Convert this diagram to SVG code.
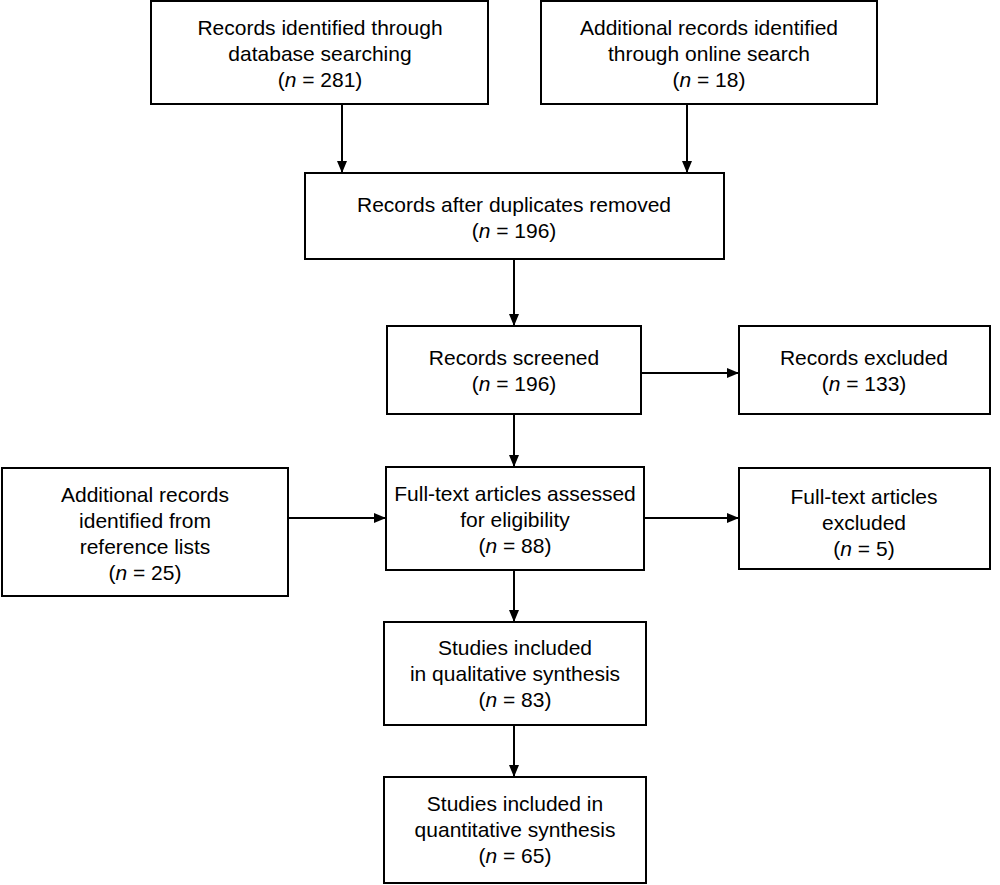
<svg xmlns="http://www.w3.org/2000/svg" width="1000" height="885" viewBox="0 0 1000 885">
<style>
rect{fill:#fff;stroke:#000;stroke-width:2}
text{font-family:"Liberation Sans",Arial,sans-serif;font-size:21px;text-anchor:middle;fill:#000}
.i{font-style:italic}
.c{stroke:#000;stroke-width:2;fill:none;marker-end:url(#ah)}
</style>
<defs>
<marker id="ah" markerWidth="12" markerHeight="10" refX="12" refY="5" orient="auto" markerUnits="userSpaceOnUse">
<path d="M0,0 L12,5 L0,10 Z" fill="#000"/>
</marker>
</defs>
<rect x="0" y="0" width="1000" height="885" style="stroke:none"/>
<g id="connectors">
<line class="c" x1="342" y1="104" x2="342" y2="173"/>
<line class="c" x1="687" y1="104" x2="687" y2="173"/>
<line class="c" x1="514" y1="259" x2="514" y2="326"/>
<line class="c" x1="641" y1="373" x2="739" y2="373"/>
<line class="c" x1="514" y1="414" x2="514" y2="467"/>
<line class="c" x1="288" y1="518" x2="386" y2="518"/>
<line class="c" x1="644" y1="518" x2="739" y2="518"/>
<line class="c" x1="514" y1="570" x2="514" y2="622"/>
<line class="c" x1="514" y1="725" x2="514" y2="777"/>
</g>
<g id="db">
<rect x="151" y="1" width="337" height="103"/>
<text x="320" y="35">Records identified through</text>
<text x="320" y="61">database searching</text>
<text x="320" y="87">(<tspan class="i">n</tspan> = 281)</text>
</g>
<g id="online">
<rect x="541" y="1" width="336" height="103"/>
<text x="709" y="35">Additional records identified</text>
<text x="709" y="61">through online search</text>
<text x="709" y="87">(<tspan class="i">n</tspan> = 18)</text>
</g>
<g id="dedup">
<rect x="305" y="173" width="419" height="86"/>
<text x="514" y="212">Records after duplicates removed</text>
<text x="514" y="238">(<tspan class="i">n</tspan> = 196)</text>
</g>
<g id="screened">
<rect x="387" y="326" width="254" height="88"/>
<text x="514" y="365">Records screened</text>
<text x="514" y="391">(<tspan class="i">n</tspan> = 196)</text>
</g>
<g id="excluded">
<rect x="739" y="326" width="251" height="88"/>
<text x="864" y="365">Records excluded</text>
<text x="864" y="391">(<tspan class="i">n</tspan> = 133)</text>
</g>
<g id="reflists">
<rect x="2" y="468" width="286" height="128"/>
<text x="145" y="502">Additional records</text>
<text x="145" y="528">identified from</text>
<text x="145" y="554">reference lists</text>
<text x="145" y="580">(<tspan class="i">n</tspan> = 25)</text>
</g>
<g id="fulltext">
<rect x="386" y="467" width="258" height="103"/>
<text x="515" y="501">Full-text articles assessed</text>
<text x="515" y="527">for eligibility</text>
<text x="515" y="553">(<tspan class="i">n</tspan> = 88)</text>
</g>
<g id="ftexcluded">
<rect x="739" y="468" width="251" height="101"/>
<text x="864" y="504">Full-text articles</text>
<text x="864" y="530">excluded</text>
<text x="864" y="556">(<tspan class="i">n</tspan> = 5)</text>
</g>
<g id="qual">
<rect x="384" y="622" width="262" height="103"/>
<text x="515" y="655">Studies included</text>
<text x="515" y="681">in qualitative synthesis</text>
<text x="515" y="707">(<tspan class="i">n</tspan> = 83)</text>
</g>
<g id="quant">
<rect x="384" y="777" width="262" height="106"/>
<text x="515" y="811">Studies included in</text>
<text x="515" y="837">quantitative synthesis</text>
<text x="515" y="863">(<tspan class="i">n</tspan> = 65)</text>
</g>
</svg>
